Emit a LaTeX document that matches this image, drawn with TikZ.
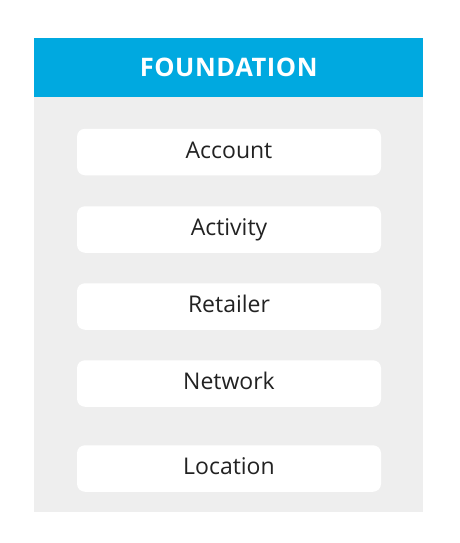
\documentclass[tikz,border=0pt]{standalone}
\usepackage{fontspec}
\setmainfont{Open Sans}
\definecolor{hdr}{HTML}{00A9E0}
\definecolor{panel}{HTML}{EEEEEE}
\definecolor{ink}{HTML}{222222}
\begin{document}
\begin{tikzpicture}[x=1pt,y=-1pt,
  item/.style={fill=white,rounded corners=8pt,minimum width=304pt,minimum height=46.5pt,inner sep=0pt,text height=16.5pt,text depth=4pt,font=\fontsize{23}{26}\selectfont,text=ink},
  every node/.style={inner sep=0pt}]
\useasboundingbox (0,0) rectangle (459,543);
\fill[panel] (34,38) rectangle (423,512);
\node[fill=hdr,minimum width=389pt,minimum height=59pt,anchor=north west,text=white,text height=18pt,text depth=1pt,font=\bfseries\fontsize{25.5}{28}\selectfont\addfontfeature{LetterSpace=2.2}] (hdr) at (34,38) {FOUNDATION};
\node[item] (account) at (229,152) {Account};
\node[item] (activity) at (229,229.5) {Activity};
\node[item] (retailer) at (229,306.5) {Retailer};
\node[item] (network) at (229,383.5) {Network};
\node[item] (location) at (229,468.5) {Location};
\end{tikzpicture}
\end{document}
